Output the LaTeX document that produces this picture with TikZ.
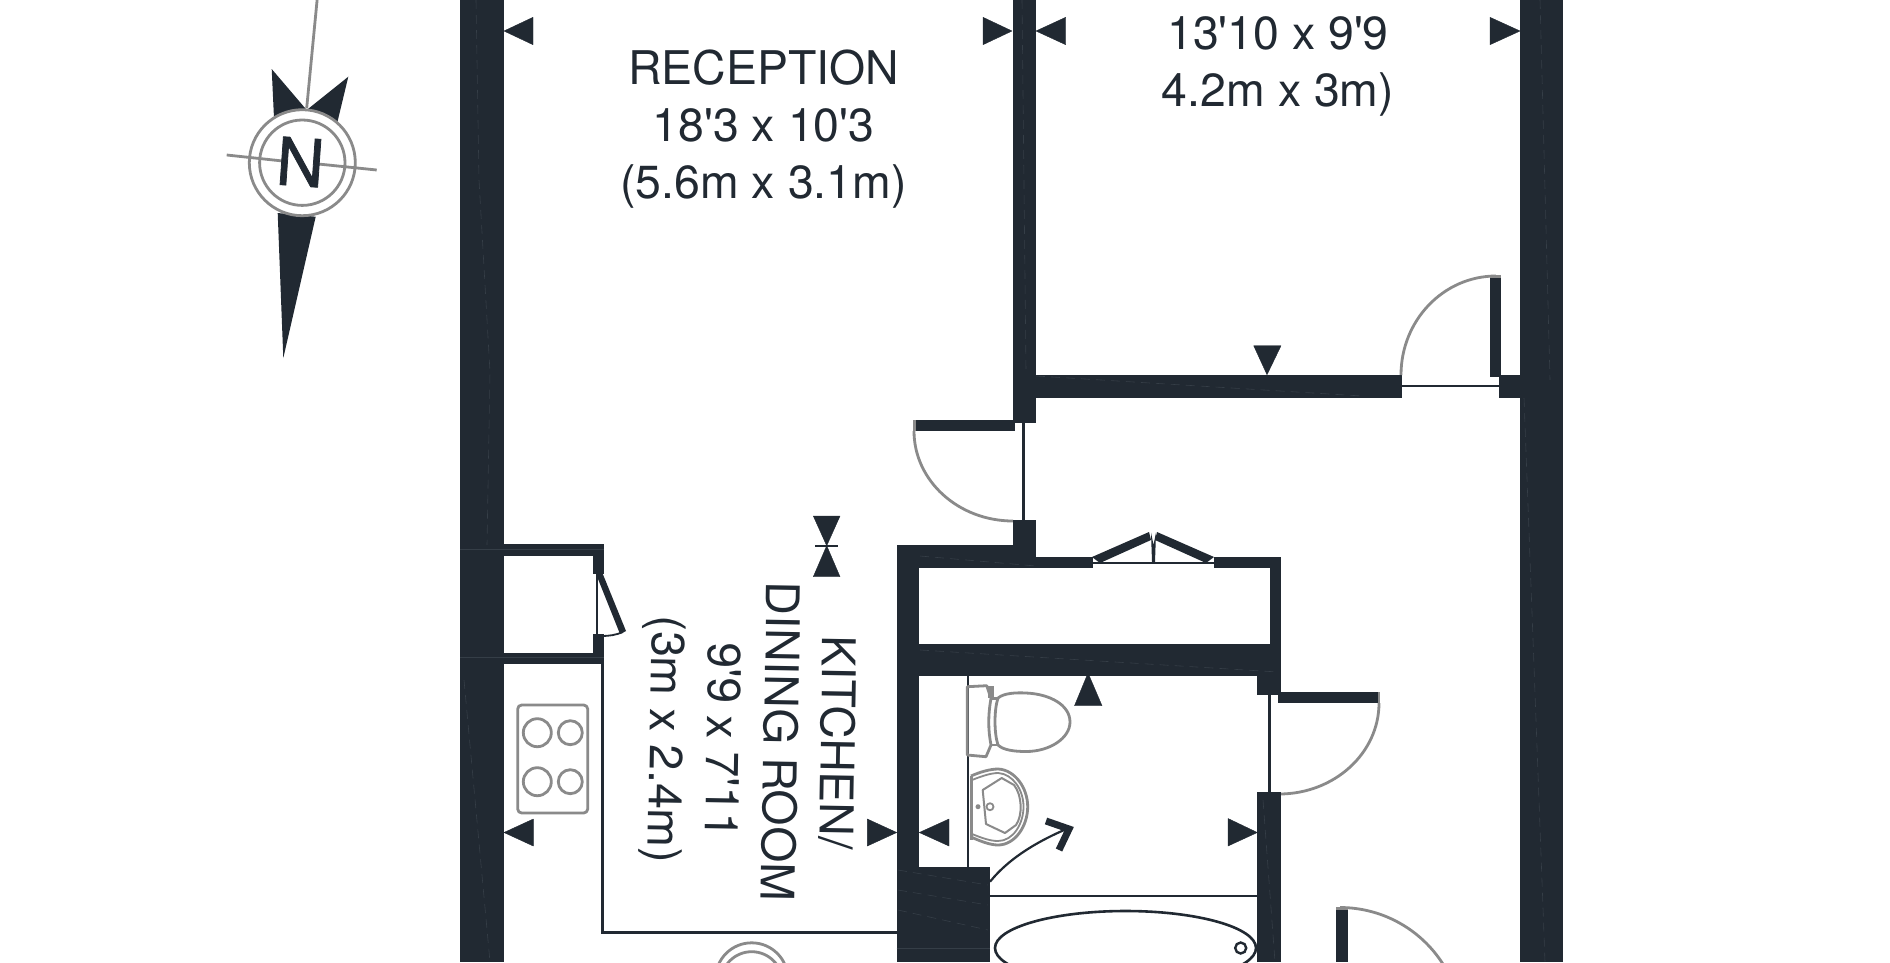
\documentclass[tikz,border=0pt]{standalone}
\usepackage{fontspec}
\newfontfamily\lab{TeX Gyre Heros}
\newfontfamily\labn[FakeBold=1.2]{TeX Gyre Heros}
\definecolor{wallc}{HTML}{212932}
\definecolor{seamc}{HTML}{353E47}
\definecolor{fixc}{HTML}{8A8A8A}
\tikzset{
  wall/.style={fill=wallc,draw=none},
  thinline/.style={draw=wallc,line width=2.6pt},
  fixture/.style={draw=fixc,line width=2.8pt,line join=round},
  marker/.style={fill=wallc,draw=wallc,line width=0.4pt,line join=round},
  seam/.style={draw=seamc,line width=0.6pt,dashed,dash pattern=on 9pt off 6pt},
  seamsolid/.style={draw=seamc,line width=0.6pt},
  room/.style={text=wallc,align=center,inner sep=0pt,font={\lab\fontsize{46.4}{57}\selectfont}}
}
\begin{document}
\begin{tikzpicture}[x=1pt,y=-1pt]
\clip (0,0) rectangle (1890,962);
\fill[white] (0,0) rectangle (1890,962);

% ---- compass
\fill[wallc] (271.7,69) -- (306.7,110) -- (348.3,76.7) -- (336.7,125) -- (274,118) -- cycle;
\fill[wallc] (277.7,213) -- (315.7,216.7) -- (283.3,358) -- cycle;
\draw[fixture] (317.3,-2) -- (306.7,108);
\draw[fixture,fill=white] (302.3,162.7) circle (53);
\draw[fixture] (302.3,162.7) circle (42.7);
\draw[fixture] (226.7,155) -- (282.7,161);
\draw[fixture] (318.3,164) -- (376.7,170);
\node[text=wallc,inner sep=0pt,rotate=-4,font={\labn\fontsize{66}{66}\selectfont}] (north) at (300.5,162) {N};

% ---- main walls
\fill[wall] (460,0) rectangle (504,962);
\fill[wall] (1520,0) rectangle (1563,962);
\fill[wall] (1012.7,0) rectangle (1036,423);
\fill[wall] (1012.7,374.7) rectangle (1401.6,398.3);
\fill[wall] (1498.5,374.7) rectangle (1521,398.3);
% bedroom door
\draw[thinline] (1401,386) -- (1499,386);
\fill[wall] (1490,276) rectangle (1500.7,377);
\draw[fixture] (1401,375) arc[start angle=180,end angle=270,x radius=95,y radius=99];
\fill[fixc] (1490,274.5) rectangle (1500.7,277.5);
% reception door
\fill[wall] (913,420) rectangle (1015.4,431.3);
\fill[fixc] (913,420) rectangle (915.5,431.3);
\draw[thinline] (1023.7,423) -- (1023.7,521);
\draw[fixture] (914,431) arc[start angle=180,end angle=90,x radius=99,y radius=90];
\fill[wall] (1012.7,520) rectangle (1036,560);
% cupboard block
\fill[wall] (896.7,545) rectangle (1036,568);
\fill[wall] (1036,557) rectangle (1092.6,568);
\fill[wall] (1213.8,557) rectangle (1281,568);
\fill[wall] (1269.5,557) rectangle (1281,650);
\fill[wall] (896.7,545) rectangle (919.3,962);
\draw[thinline,line width=2pt] (1092,562.5) -- (1214,562.5);
\fill[wall] (1092,557) -- (1149,532) -- (1151,540) -- (1100,563) -- cycle;
\fill[wall] (1214,557) -- (1157,532) -- (1155,540) -- (1206,563) -- cycle;
\fill[wall] (1151,532.5) -- (1153.5,545) -- (1156,532.5) -- (1155,562) -- (1152,562) -- cycle;
% wide horizontal wall, stub and door
\fill[wall] (896.7,644.3) rectangle (1280.7,675.7);
\fill[wall] (1257.3,675) rectangle (1280.7,695);
\fill[wall] (1278.3,692) rectangle (1380,703);
\fill[fixc] (1377.5,692) rectangle (1380,703);
\draw[thinline] (1269.3,695) -- (1269.3,793);
\draw[fixture] (1379,703) arc[start angle=0,end angle=90,x radius=100,y radius=91];
\fill[wall] (1257.3,792) rectangle (1280.7,962);
\draw[thinline] (968,675) -- (968,867);
\fill[wall] (896.7,866.7) rectangle (990,962);
\draw[thinline] (990,896) -- (1258,896);
% WC door swing
\draw[draw=wallc,line width=2.2pt] (990,881.7) .. controls (1010,857) and (1040,840) .. (1070,827.5);
\draw[draw=wallc,line width=7pt,miter limit=10] (1046,821) -- (1069,829) -- (1059,850);
% kitchen outline and cupboard
\fill[wall] (504,544.3) rectangle (604,555.7);
\fill[wall] (504,652.7) rectangle (604,664);
\fill[wall] (593.3,544.3) rectangle (604,574.3);
\fill[wall] (593.3,634) rectangle (604,664);
\draw[thinline,line width=2pt] (597,574) -- (597,634);
\fill[wall] (596,574) -- (602,572) -- (626,631) -- (620,634) -- cycle;
\draw[draw=wallc,line width=1.8pt] (623,632) .. controls (616,635) and (609,636) .. (602,636);
\draw[thinline] (602.7,664) -- (602.7,932.7) -- (897,932.7);
% bottom door
\fill[wall] (1336,907) rectangle (1348,962);
\fill[fixc] (1336,906.5) rectangle (1348,909.5);
\draw[fixture] (1340,907.5) arc[start angle=-90,end angle=-30,radius=122];

% ---- seams
\draw[seam] (476,0) -- (479,180) -- (490,372) -- (487,545);
\draw[seamsolid] (460,549) -- (604,549);
\draw[seamsolid] (460,657) -- (604,657);
\draw[seam] (464,680) -- (490,962);
\draw[seam] (1036,376) -- (1362,396);
\draw[seam] (1540,0) -- (1550,380);
\draw[seam] (1524,398) -- (1545,962);
\draw[seam] (1022,0) -- (1026,372);
\draw[seam] (920,556) -- (1036,566);
\draw[seam] (920,650) -- (1278,672);
\draw[seam] (898,870) -- (988,885);
\draw[seam] (898,890) -- (988,905);
\draw[seam] (898,910) -- (988,930);
\draw[seamsolid] (896.7,948) -- (990,948);
\draw[seam] (1263,800) -- (1275,962);

% ---- hob
\draw[fixture,rounded corners=4pt] (517.7,705) rectangle (587.7,813);
\draw[fixture] (537.3,732.7) circle (14);
\draw[fixture] (570.3,732.7) circle (12);
\draw[fixture] (537.3,781.7) circle (14);
\draw[fixture] (570.3,781.7) circle (12);

% ---- WC
\draw[fixture] (967.3,686.7) -- (986.7,685.7) -- (991,698.3) .. controls (988,715) and (988,730) .. (991,745) -- (986,756.7) -- (967.3,755) -- cycle;
\fill[fixc] (988,685.5) rectangle (993.7,698);
\draw[fixture] (991,698.3) -- (998,698.3);
\draw[fixture] (991,745) -- (998,745);
\draw[fixture] (998,698) .. controls (1004,693) and (1016,692.5) .. (1026,693) .. controls (1050,694) and (1070,705) .. (1070,722) .. controls (1070,738) and (1050,751.5) .. (1026,751.5) .. controls (1014,751.5) and (1003,750) .. (998,745) .. controls (994,733) and (994,710) .. (998,698);
% ---- basin
\draw[fixture] (971.5,776) -- (971.5,840);
\draw[fixture] (971,776) .. controls (980,772) and (990,769) .. (998.3,769) .. controls (1015,770) and (1027.7,788) .. (1027.7,806.7) .. controls (1027.7,826) and (1015,845) .. (998,845) .. controls (990,845) and (980,841) .. (971,837);
\draw[fixture,line width=1.8pt] (972,780) .. controls (982,776) and (991,773) .. (998.3,773) .. controls (1013,774) and (1023.5,790) .. (1023.5,806.7) .. controls (1023.5,824) and (1013,841) .. (998,841) .. controls (990,841) and (982,838) .. (972,834);
\draw[fixture,line width=2pt] (982.7,790) -- (1001.7,778) -- (1014,785) .. controls (1022,795) and (1023,815) .. (1016,825) -- (1005,833) -- (986,824) -- cycle;
\draw[fixture,line width=1.8pt] (990,806.7) circle (3.5);
\fill[fixc] (978,806.7) circle (2.5);

% ---- bath
\draw[draw=wallc,line width=2.6pt] (1125.5,948) ellipse [x radius=130.5,y radius=37];
\draw[draw=wallc,line width=2.4pt] (1240.7,948) circle (5.5);

% ---- lower WC ring
\draw[fixture] (751.7,979) circle (36.2);
\draw[fixture] (751.7,982.5) circle (30.8);

% ---- size markers
\fill[marker] (504,31) -- (533,17.3) -- (533,44.7) -- cycle;
\fill[marker] (1012,31) -- (983,17.3) -- (983,44.7) -- cycle;
\fill[marker] (1036,31) -- (1065.7,17.3) -- (1065.7,44.7) -- cycle;
\fill[marker] (1520,31) -- (1490,17.3) -- (1490,44.7) -- cycle;
\fill[marker] (1267,374.7) -- (1253.7,345.7) -- (1281,345.7) -- cycle;
\fill[marker] (504,832.5) -- (533.3,819) -- (533.3,846) -- cycle;
\fill[marker] (896.7,832.5) -- (867.3,819) -- (867.3,846) -- cycle;
\fill[marker] (919.3,832.5) -- (949,819) -- (949,846) -- cycle;
\fill[marker] (1257.3,832.5) -- (1228,818.5) -- (1228,846) -- cycle;
\fill[marker] (1088,673) -- (1074.5,705.7) -- (1102,705.7) -- cycle;
\fill[marker] (826.7,545.7) -- (813.3,516) -- (840,516) -- cycle;
\fill[marker] (826.7,545.7) -- (813.3,576.7) -- (840,576.7) -- cycle;
\draw[draw=wallc,line width=1.8pt] (815,545.7) -- (838,545.7);

% ---- room labels
\node[room] (reception) at (763.5,129) {RECEPTION\\18'3 x 10'3\\(5.6m x 3.1m)};
\node[room] (bedroom) at (1278,66.5) {13'10 x 9'9\\4.2m x 3m)};
\node[room,rotate=-91] (kitchen) at (748,741) {KITCHEN/\\DINING ROOM\\9'9 x 7'11\\(3m x 2.4m)};
\end{tikzpicture}
\end{document}
